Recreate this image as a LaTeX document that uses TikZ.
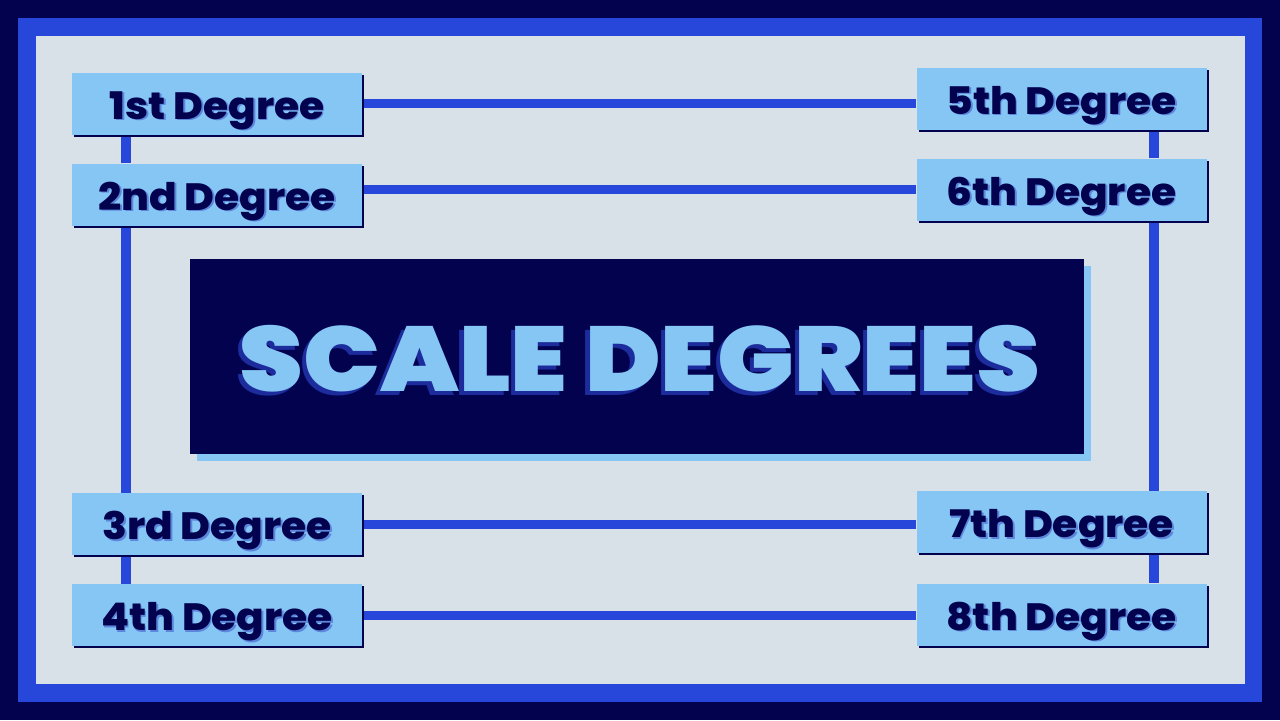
\documentclass[tikz,border=0pt]{standalone}
\usepackage{fontspec}
\setmainfont{Poppins}
\newfontfamily\raskas{Poppins ExtraBold}
\newfontfamily\musta{Poppins Black}
\usetikzlibrary{shadows}
\definecolor{navy}{HTML}{02024F}
\definecolor{rim}{HTML}{2647D9}
\definecolor{paper}{HTML}{D8E0E8}
\definecolor{sky}{HTML}{86C6F5}
\definecolor{deep}{HTML}{1C2C9C}
\definecolor{haze}{HTML}{5C86DC}
\begin{document}
\begin{tikzpicture}[x=0.5pt,y=-0.5pt,
aste/.style={fill=sky,minimum width=145pt,minimum height=31pt,inner sep=0pt,
text height=15.5pt,text depth=0pt,
drop shadow={shadow xshift=1pt,shadow yshift=-1pt,fill=navy,opacity=1},
font=\fontsize{19}{19}\raskas,text=navy},
linkki/.style={draw=rim,line width=4.5pt},
pysty/.style={draw=rim,line width=5pt}]
\newcommand\varjo[4]{\rlap{\kern#3\raisebox{-#4}{\color{#2}#1}}#1}
\newcommand\aste[1]{\scalebox{1.07}[1]{\varjo{#1}{haze}{0.8pt}{0.8pt}}}
\useasboundingbox (0,0) rectangle (1280,720);
\fill[navy] (0,0) rectangle (1280,720);
\fill[rim] (18,18) rectangle (1262,702);
\fill[paper] (36,36) rectangle (1245,684);
\node[aste] (b1) at (217,103.5) {\aste{1st Degree}};
\node[aste] (b2) at (217,194.5) {\aste{2nd Degree}};
\node[aste] (b3) at (217,524) {\aste{3rd Degree}};
\node[aste] (b4) at (217,615) {\aste{4th Degree}};
\node[aste] (b5) at (1061.5,98.5) {\aste{5th Degree}};
\node[aste] (b6) at (1061.5,189.5) {\aste{6th Degree}};
\node[aste] (b7) at (1061.5,522) {\aste{7th Degree}};
\node[aste] (b8) at (1061.5,614.5) {\aste{8th Degree}};
\node[fill=navy,minimum width=447pt,minimum height=97.5pt,
drop shadow={shadow xshift=3.5pt,shadow yshift=-3.5pt,fill=sky,opacity=1}] (otsikko) at (637,356.5) {};
\node[text=sky,font=\fontsize{46}{46}\musta] (nimi) at (640,361)
{\scalebox{1.11}[1]{\varjo{SCALE DEGREES}{deep}{-2pt}{2pt}}};
\path[linkki] ([xshift=1pt]b1.east) -- (b1.east -| b5.west);
\path[linkki] ([xshift=1pt]b2.east |- b6.west) -- (b6.west);
\path[linkki] ([xshift=1pt]b3.east) -- (b3.east -| b7.west);
\path[linkki] ([xshift=1pt]b4.east) -- (b4.east -| b8.west);
\foreach \a/\b in {b1/b2,b2/b3,b3/b4}
\path[pysty] ([xshift=27pt,yshift=-1pt]\a.south west) -- ([xshift=27pt]\b.north west);
\foreach \a/\b in {b5/b6,b6/b7,b7/b8}
\path[pysty] ([xshift=-26.5pt,yshift=-1pt]\a.south east) -- ([xshift=-26.5pt]\b.north east);
\end{tikzpicture}
\end{document}
